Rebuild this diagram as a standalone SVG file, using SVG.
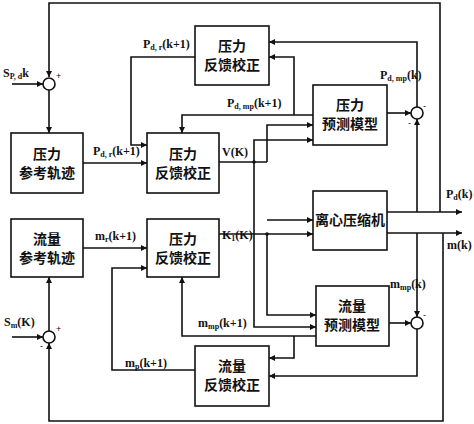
<svg xmlns="http://www.w3.org/2000/svg" width="474" height="424" viewBox="0 0 474 424">
<defs>
<marker id="ar" viewBox="0 0 10 10" refX="10" refY="5" markerWidth="9" markerHeight="6" markerUnits="userSpaceOnUse" orient="auto">
<path d="M0,0 L10,5 L0,10 Z" fill="#111"/>
</marker>
<style>
.b{fill:#fff;stroke:#111;stroke-width:1.6}
.c{fill:none;stroke:#111;stroke-width:1.6}
.w{fill:none;stroke:#111;stroke-width:1.6;marker-end:url(#ar)}
.cn{font-family:"Noto Sans CJK SC","Noto Sans",sans-serif;font-size:14px;font-weight:700;fill:#111;text-anchor:middle}
.lb{font-family:"Liberation Serif","Times New Roman",serif;font-size:12px;font-weight:700;fill:#111}
.sb{font-size:8px}
.sg{font-family:"Liberation Sans",sans-serif;font-size:9px;fill:#111}
</style>
</defs>
<rect width="474" height="424" fill="#fff"/>

<g id="connectors">
<path class="w" d="M12,84 H43"/>
<path class="w" d="M440,212 V3 H49 V77"/>
<path class="w" d="M49,90 V133"/>
<path class="w" d="M83,163 H147"/>
<path class="w" d="M195,57 H131 V145 H147"/>
<path class="w" d="M313,115 H182 V133"/>
<path class="w" d="M294,115 V57 H269"/>
<path class="w" d="M387,113 H411"/>
<path class="w" d="M417,107 V42 H269"/>
<path class="w" d="M387,212 H462"/>
<path class="w" d="M417,212 V119"/>
<path class="w" d="M387,233 H462"/>
<path class="w" d="M417,233 V317"/>
<path class="w" d="M443,233 V421 H49 V343"/>
<path class="w" d="M12,337 H43"/>
<path class="w" d="M49,331 V277"/>
<path class="w" d="M83,248 H147"/>
<path class="w" d="M195,370 H112 V268 H147"/>
<path class="w" d="M316,336 H182 V277"/>
<path class="w" d="M294,336 V358 H269"/>
<path class="w" d="M389,323 H411"/>
<path class="w" d="M417,329 V376 H269"/>
<path class="c" d="M219,162 H267"/>
<path class="w" d="M254,162 V140 H313"/>
<path class="w" d="M254,162 V327 H316"/>
<path class="w" d="M267,162 V125 H313"/>
<path class="w" d="M267,234 V315 H316"/>
<path class="w" d="M267,220 H313"/>
<path class="w" d="M219,234 H313"/>
<circle cx="254" cy="162" r="1.8" fill="#111"/>
<circle cx="267" cy="234" r="1.8" fill="#111"/>
</g>

<g id="sum1"><circle class="b" cx="49" cy="84" r="6"/><text class="sg" x="56" y="79">+</text></g>
<g id="sum2"><circle class="b" cx="417" cy="113" r="6"/><text class="sg" x="423" y="109">-</text><text class="sg" x="408" y="126">-</text></g>
<g id="sum3"><circle class="b" cx="417" cy="323" r="6"/><text class="sg" x="423" y="318">-</text></g>
<g id="sum4"><circle class="b" cx="49" cy="337" r="6"/><text class="sg" x="56" y="332">+</text><text class="sg" x="40" y="349">-</text></g>

<g id="box-p-ref"><rect class="b" x="11" y="133" width="72" height="60"/><text class="cn" x="47" y="159">压力</text><text class="cn" x="47" y="178">参考轨迹</text></g>
<g id="box-p-fb-mid"><rect class="b" x="147" y="133" width="72" height="60"/><text class="cn" x="183" y="159">压力</text><text class="cn" x="183" y="178">反馈校正</text></g>
<g id="box-m-ref"><rect class="b" x="11" y="219" width="72" height="58"/><text class="cn" x="47" y="244">流量</text><text class="cn" x="47" y="263">参考轨迹</text></g>
<g id="box-p-fb-low"><rect class="b" x="147" y="219" width="72" height="58"/><text class="cn" x="183" y="244">压力</text><text class="cn" x="183" y="263">反馈校正</text></g>
<g id="box-p-fb-top"><rect class="b" x="195" y="26" width="74" height="59"/><text class="cn" x="232" y="51">压力</text><text class="cn" x="232" y="70">反馈校正</text></g>
<g id="box-p-pred"><rect class="b" x="313" y="85" width="74" height="60"/><text class="cn" x="350" y="110">压力</text><text class="cn" x="350" y="129">预测模型</text></g>
<g id="box-comp"><rect class="b" x="313" y="191" width="74" height="59"/><text class="cn" x="350" y="225">离心压缩机</text></g>
<g id="box-m-pred"><rect class="b" x="316" y="286" width="73" height="60"/><text class="cn" x="352" y="311">流量</text><text class="cn" x="352" y="330">预测模型</text></g>
<g id="box-m-fb"><rect class="b" x="195" y="346" width="74" height="60"/><text class="cn" x="232" y="371">流量</text><text class="cn" x="232" y="390">反馈校正</text></g>

<g id="labels">
<text class="lb" x="3" y="77">S<tspan class="sb" dy="2">P, d</tspan><tspan dy="-2">k</tspan></text>
<text class="lb" x="143" y="48">P<tspan class="sb" dy="2">d, r</tspan><tspan dy="-2">(k+1)</tspan></text>
<text class="lb" x="93" y="155">P<tspan class="sb" dy="2">d, r</tspan><tspan dy="-2">(k+1)</tspan></text>
<text class="lb" x="227" y="107">P<tspan class="sb" dy="2">d, mp</tspan><tspan dy="-2">(k+1)</tspan></text>
<text class="lb" x="380" y="79">P<tspan class="sb" dy="2">d, mp</tspan><tspan dy="-2">(k)</tspan></text>
<text class="lb" x="222" y="156">V(K)</text>
<text class="lb" x="222" y="239">K<tspan class="sb" dy="2">1</tspan><tspan dy="-2">(K)</tspan></text>
<text class="lb" x="95" y="240">m<tspan class="sb" dy="2">r</tspan><tspan dy="-2">(k+1)</tspan></text>
<text class="lb" x="446" y="198">P<tspan class="sb" dy="2">d</tspan><tspan dy="-2">(k)</tspan></text>
<text class="lb" x="447" y="249">m(k)</text>
<text class="lb" x="4" y="326">S<tspan class="sb" dy="2">m</tspan><tspan dy="-2">(K)</tspan></text>
<text class="lb" x="198" y="327">m<tspan class="sb" dy="2">mp</tspan><tspan dy="-2">(k+1)</tspan></text>
<text class="lb" x="125" y="367">m<tspan class="sb" dy="2">p</tspan><tspan dy="-2">(k+1)</tspan></text>
<text class="lb" x="390" y="288">m<tspan class="sb" dy="2">mp</tspan><tspan dy="-2">(k)</tspan></text>
</g>
</svg>
